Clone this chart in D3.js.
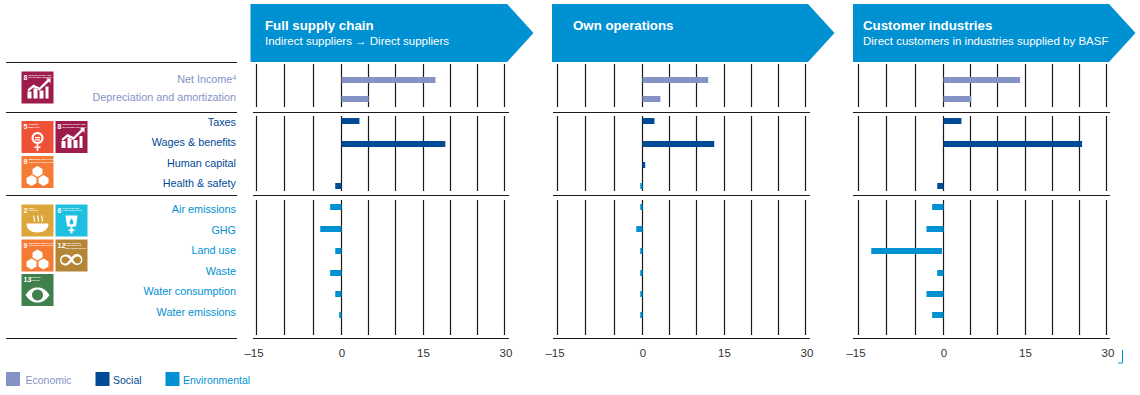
<!DOCTYPE html>
<html>
<head>
<meta charset="utf-8">
<script src="https://cdn.jsdelivr.net/npm/d3@7"></script>
<style>
body{margin:0;background:#fff;}
svg{display:block;font-family:"Liberation Sans",sans-serif;}
</style>
</head>
<body>
<svg width="1140" height="395"></svg>
<script>
// row data, one entry per row of the table
var rowLabels = ['Net Income','Depreciation and amortization','Taxes','Wages & benefits','Human capital','Health & safety','Air emissions','GHG','Land use','Waste','Water consumption','Water emissions'];
var rowKinds = ['Economic','Economic','Social','Social','Social','Social','Environmental','Environmental','Environmental','Environmental','Environmental','Environmental'];
var rowGroups = [0,0,1,1,1,1,2,2,2,2,2,2];
var fullChainValues = [17.3,5.0,3.3,19.1,0,-1.1,-2.0,-3.75,-1.1,-2.0,-1.1,-0.4];
var ownOpsValues = [12.1,3.3,2.2,13.2,0.5,-0.4,-0.4,-1.1,-0.4,-0.4,-0.4,-0.4];
var customerValues = [14.1,5.1,3.3,25.5,0,-1.1,-2.0,-3.0,-12.75,-1.1,-3.0,-2.0];
var panelTitles = ['Full supply chain','Own operations','Customer industries'];
var panelSubtitles = ['Indirect suppliers \u2192 Direct suppliers','','Direct customers in industries supplied by BASF'];
var kinds = ['Economic','Social','Environmental'];
var kindColors = ['#8592c6','#004a96','#0091d2'];
var gridValues = [-15,-10,-5,0,5,10,15,20,25,30];
var tickValues = [-15,0,15,30];

var svg = d3.select('svg');
var color = d3.scaleOrdinal().domain(kinds).range(kindColors);
var lineColor = '#1a1a1a';

// layout of the three row blocks
var blockGrid = [[64,107],[116,191],[200,335]];
var blockBars = [[80,99],[121,144,165,186],[207,229,251,273,294,315]];
var blockLabels = [[79,97],[122,183],[209,312]];
var separators = [112.5,195.5,338.5];

function rowsOf(g){
    return rowLabels.map(function(d,i){return i}).filter(function(i){return rowGroups[i]==g});
}
var barY = {}, labelY = {};
[0,1,2].forEach(function(g){
    var rows = rowsOf(g);
    var a = d3.scaleOrdinal().domain(rows).range(blockBars[g]);
    var b = d3.scalePoint().domain(rows).range(blockLabels[g]);
    rows.forEach(function(r){barY[r]=a(r);labelY[r]=b(r)});
});

var panels = [
    {values:fullChainValues, left:250.5, shoulder:507, tip:533.5, textX:265, sepL:253, sepR:509, range:[256.5,341.5,504.5]},
    {values:ownOpsValues, left:552, shoulder:808, tip:834.5, textX:573, sepL:553, sepR:810, range:[557.5,642.5,805.5]},
    {values:customerValues, left:853, shoulder:1109, tip:1135.5, textX:863, sepL:853, sepR:1110, range:[858.5,943.5,1106.5]}
];

panels.forEach(function(p,pi){
    var x = d3.scaleLinear().domain([-15,0,30]).range(p.range);
    var g = svg.append('g');

    // arrow header
    g.append('path')
     .attr('d','M'+p.left+',4H'+p.shoulder+'L'+p.tip+',33L'+p.shoulder+',62H'+p.left+'Z')
     .attr('fill','#0091d2');
    g.append('text').attr('x',p.textX).attr('y',30)
     .attr('font-size',13.3).attr('font-weight','bold').attr('fill','#fff')
     .text(panelTitles[pi]);
    if(panelSubtitles[pi]){
        g.append('text').attr('x',p.textX).attr('y',45)
         .attr('font-size',11.5).attr('fill','#fff')
         .text(panelSubtitles[pi]);
    }

    // grid lines per block
    blockGrid.forEach(function(b){
        g.append('g').selectAll('line').data(gridValues).enter().append('line')
         .attr('x1',function(d){return Math.round(x(d)-0.5)+0.5})
         .attr('x2',function(d){return Math.round(x(d)-0.5)+0.5})
         .attr('y1',b[0]).attr('y2',b[1])
         .attr('stroke',lineColor).attr('stroke-width',1.2);
    });

    // separators
    g.append('g').selectAll('line').data(separators).enter().append('line')
     .attr('x1',p.sepL).attr('x2',p.sepR)
     .attr('y1',function(d){return d}).attr('y2',function(d){return d})
     .attr('stroke',lineColor).attr('stroke-width',1);

    // bars
    g.append('g').selectAll('rect').data(p.values).enter().append('rect')
     .attr('x',function(d){return x(Math.min(d,0))})
     .attr('width',function(d,i){
        // land use under customer industries stops just short of the zero line
        var w = Math.abs(x(d)-x(0));
        return (pi==2 && i==8) ? w-1.5 : w;
     })
     .attr('y',function(d,i){return barY[i]-3})
     .attr('height',6)
     .attr('fill',function(d,i){
        // the own operations bar for health & safety is printed in the lighter blue
        if(pi==1 && i==5) return color('Environmental');
        return color(rowKinds[i]);
     });

    // axis labels
    var axis = g.append('g').attr('transform','translate(0,349)')
     .call(d3.axisBottom(x).tickValues(tickValues).tickSize(0)
        .tickFormat(function(d){return d<0 ? '\u2013'+Math.abs(d) : d}));
    axis.select('.domain').remove();
    axis.selectAll('text').attr('font-size',11.5).attr('font-family','"Liberation Sans",sans-serif').attr('fill','#333').attr('dy','0.71em').attr('y',0)
     .attr('dx',function(d){return d<0 ? -3 : d==30 ? 1 : 0});
});

// left side rules and row labels
svg.append('g').selectAll('line').data([62.5].concat(separators)).enter().append('line')
 .attr('x1',6).attr('x2',237)
 .attr('y1',function(d){return d}).attr('y2',function(d){return d})
 .attr('stroke',lineColor).attr('stroke-width',1);

var labels = svg.append('g').selectAll('text').data(rowLabels).enter().append('text')
 .attr('x',236).attr('y',function(d,i){return labelY[i]+4})
 .attr('text-anchor','end').attr('font-size',10.8)
 .attr('fill',function(d,i){return color(rowKinds[i])})
 .text(function(d){return d});
labels.filter(function(d){return d=='Net Income'}).append('tspan')
 .attr('font-size',6.5).attr('dy',-3.5).text('4');

// SDG tiles
var sdgTiles = [
    {n:8,x:21.5,y:71.5,c:'#9d1c4b',t:['DECENT WORK AND','ECONOMIC GROWTH'],icon:'chart'},
    {n:5,x:21.5,y:121,c:'#ef5138',t:['GENDER','EQUALITY'],icon:'gender'},
    {n:8,x:55.5,y:121,c:'#9d1c4b',t:['DECENT WORK AND','ECONOMIC GROWTH'],icon:'chart'},
    {n:9,x:21.5,y:156,c:'#f57a34',t:['INDUSTRY, INNOVATION','AND INFRASTRUCTURE'],icon:'cubes'},
    {n:2,x:21.5,y:204.5,c:'#dca63a',t:['ZERO','HUNGER'],icon:'bowl'},
    {n:6,x:55.5,y:204.5,c:'#1fbfe0',t:['CLEAN WATER','AND SANITATION'],icon:'glass'},
    {n:9,x:21.5,y:239.5,c:'#f57a34',t:['INDUSTRY, INNOVATION','AND INFRASTRUCTURE'],icon:'cubes'},
    {n:12,x:55.5,y:239.5,c:'#b58537',t:['RESPONSIBLE','CONSUMPTION','AND PRODUCTION'],icon:'loop'},
    {n:13,x:21.5,y:274,c:'#40804d',t:['CLIMATE','ACTION'],icon:'eye'}
];
var sdgIcons = {
    chart:'M6,27V20H10V27ZM12,27V17H16V27ZM18,27V19H22V27ZM24,27V15H27V27ZM6,18L12,13L18,16L26,8L24,7H29V12L27.5,10L18,19L12,16L7,20Z',
    gender:'M16,11a6,6 0 1,0 0.01,0ZM16,13a4,4 0 1,1 -0.01,0ZM13.5,16H18.5V17.2H13.5ZM13.5,18.2H18.5V19.4H13.5ZM15.2,23H16.8V25.5H19V27H16.8V30H15.2V27H13V25.5H15.2Z',
    cubes:'M16,10L21,13V18L16,21L11,18V13ZM10,19L15,22V27L10,30L5,27V22ZM22,19L27,22V27L22,30L17,27V22Z',
    bowl:'M5,19H27C27,25 22,28 16,28S5,25 5,19ZM12,11c-1.5,2 1.5,3 0,6h1.2c1.5,-3 -1.5,-4 0,-6ZM16,11c-1.5,2 1.5,3 0,6h1.2c1.5,-3 -1.5,-4 0,-6ZM20,11c-1.5,2 1.5,3 0,6h1.2c1.5,-3 -1.5,-4 0,-6Z',
    glass:'M10,11H22L20.5,22H17V25H19V26.5H17V29H15V26.5H13V25H15V22H11.5ZM16,14C14.5,16 14,17 14,18A2,2 0 0,0 18,18C18,17 17.5,16 16,14Z',
    loop:'M10,15a5.5,5.5 0 1,0 4,9.3L16,22.2L18,24.3A5.5,5.5 0 1,0 18,15.7L16,17.8L14,15.7A5.5,5.5 0 0,0 10,15ZM10,17a3.5,3.5 0 0,1 2.6,1.1L14.6,20L12.6,21.9A3.5,3.5 0 1,1 10,17ZM22,17a3.5,3.5 0 1,1 -2.6,5.9L17.4,20L19.4,18.1A3.5,3.5 0 0,1 22,17Z',
    eye:'M4,21C8,15 12,13.5 16,13.5S24,15 28,21C24,27 20,28.5 16,28.5S8,27 4,21ZM16,15.5a5.5,5.5 0 1,0 0.01,0Z'
};
var tile = svg.append('g').selectAll('g').data(sdgTiles).enter().append('g')
 .attr('transform',function(d){return 'translate('+d.x+','+d.y+')'});
tile.append('rect').attr('width',32).attr('height',32).attr('fill',function(d){return d.c});
tile.append('text').attr('x',2).attr('y',8).attr('font-size',7).attr('font-weight','bold').attr('fill','#fff')
 .text(function(d){return d.n});
tile.each(function(d){
    var el = d3.select(this);
    d.t.forEach(function(line,i){
        el.append('text').attr('x',d.n>9 ? 9 : 7).attr('y',4+i*2.6)
         .attr('font-size',2.3).attr('font-weight','bold').attr('fill','#fff').text(line);
    });
});
tile.append('path').attr('d',function(d){return sdgIcons[d.icon]})
 .attr('fill','#fff').attr('fill-rule','evenodd');

// legend
var legendX = [6,95.5,165.5];
var legend = svg.append('g').selectAll('g').data(kinds).enter().append('g')
 .attr('transform',function(d,i){return 'translate('+legendX[i]+',372)'});
legend.append('rect').attr('width',14).attr('height',14).attr('fill',function(d){return color(d)});
legend.append('text').attr('x',function(d,i){return i==0 ? 19.5 : 17.5}).attr('y',12)
 .attr('font-size',10.5).attr('fill',function(d){return color(d)})
 .text(function(d){return d});

// end mark of the table
svg.append('path').attr('d','M1118,363H1122.5V350').attr('fill','none')
 .attr('stroke','#0091d2').attr('stroke-width',1);
</script>
</body>
</html>
